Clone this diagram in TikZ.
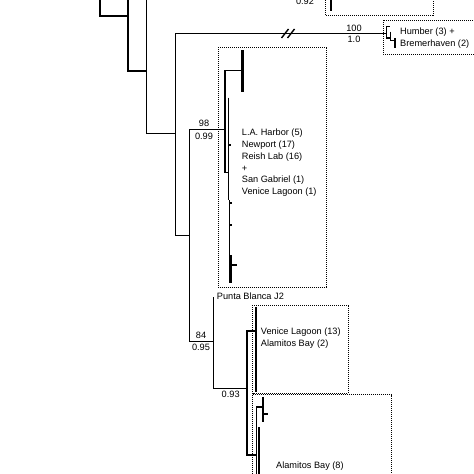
\documentclass[tikz,border=0pt]{standalone}
\usepackage{fontspec}
\setmainfont{Liberation Sans}
\usepackage{tikz}
\tikzstyle{branch}=[line width=1.4pt]
\tikzstyle{thickleaf}=[line width=2.4pt]
\tikzstyle{cladebox}=[line width=0.9pt, dash pattern=on 0.9pt off 1.1pt]
\tikzstyle{lab}=[inner sep=0pt, font=\fontsize{9.2}{11.8}\selectfont]

\begin{document}
\begin{tikzpicture}[x=1pt, y=-1pt]
		\useasboundingbox (0,0) rectangle (474,474);
		\coordinate (up100) at (100,-10);
		\coordinate (n128) at (128,16);
		\coordinate (up128) at (128,-10);
		\coordinate (n147) at (146.7,71);
		\coordinate (up147) at (146.7,-10);
		\coordinate (n176) at (175.7,133.5);
		\coordinate (hum) at (386.5,33.5);
		\coordinate (n189) at (189.3,235.7);
		\coordinate (n225) at (225,129.3);
		\coordinate (n242) at (242.3,70.7);
		\coordinate (n228) at (228.3,172.7);
		\coordinate (n213) at (213.3,341.7);
		\coordinate (pbj) at (213.3,297);
		\coordinate (n247) at (246.7,388.3);
		\coordinate (ven) at (256,331);
		\coordinate (ala) at (256.7,455);
		\coordinate (n263) at (263,407);
		\coordinate (hb1) at (389.5,26.5);
		\coordinate (hb2) at (390.5,38);
		\coordinate (hb3) at (395,40.5);
		\coordinate (brk) at (288,33.5);
		\draw[branch] (up100) |- (n128);
		\draw[branch] (n128) |- (up128);
		\draw[branch] (n128) |- (n147);
		\draw[branch] (n147) |- (up147);
		\draw[branch] (n147) |- (n176);
		\draw[branch] (n176) |- (hum);
		\draw[branch] (n176) |- (n189);
		\draw[branch] (n189) |- (n225);
		\draw[branch] (n189) |- (n213);
		\draw[branch] (n225) |- (n242);
		\draw[branch] (n225) |- (n228);
		\draw[thickleaf] (n242) ++(0,-20.7) -- ++(0,42);
		\draw[branch] (n228) ++(0,-75) -- ++(0,102);
		\draw[branch] (229.3,200) -- (229.3,255);
		\draw[line width=2.4pt] (230.3,255) -- (230.3,283);
		\draw[branch] (228.3,145) -- (230.8,145);
		\draw[branch] (229.3,203) -- (231.5,203);
		\draw[branch] (229.3,225) -- (231.5,225);
		\draw[branch] (230.3,265) -- (236.7,265);
		\draw[branch] (n213) |- (pbj);
		\draw[branch] (n213) |- (n247);
		\draw[line width=1.6pt] (n247) |- (ven);
		\draw[line width=1.6pt] (n247) |- (ala);
		\draw[thickleaf] (ven) ++(0,-24.3) -- ++(0,85);
		\draw[branch] (ala) |- (n263);
		\draw[branch] (ala) -- ++(0,30);
		\draw[thickleaf] (258.7,427) -- (258.7,485);
		\draw[branch] (n263) ++(0,-10.3) -- ++(0,25);
		\draw[branch] (n263) ++(0,7) -- ++(5.3,0);
		\draw[branch] (hum) |- (hb1);
		\draw[branch] (hum) |- (hb2);
		\draw[branch] (hb2) ++(0,-6.5) |- (hb3);
		\draw[thickleaf] (hb3) ++(0,-2.5) -- ++(0,10);
		\draw[branch] (brk) ++(-6.5,4.5) -- ++(7,-9);
		\draw[branch] (brk) ++(-0.5,4.5) -- ++(7,-9);
		\draw[branch] (331,-10) -- (331,11);
		\draw[cladebox] (325.7,-10) rectangle (433,15.3);
		\draw[cladebox] (383.3,20) rectangle (480,54);
		\draw[cladebox] (218.3,47) rectangle (326.7,287.7);
		\draw[cladebox] (252.7,305) rectangle (348.3,393.3);
		\draw[cladebox] (252.3,394.5) rectangle (391.7,480);
		\node[lab] (b092) at (305,1) {0.92};
		\node[lab] (b100) at (354,28.5) {100};
		\node[lab] (p10) at (354,39.5) {1.0};
		\node[lab, anchor=west, align=left] (hname) at (400,38) {Humber (3) +\\Bremerhaven (2)};
		\node[lab, anchor=west, align=left] (laname) at (241.7,162.8) {L.A. Harbor (5)\\Newport (17)\\Reish Lab (16)\\+\\San Gabriel (1)\\Venice Lagoon (1)};
		\node[lab] (b98) at (204,123.7) {98};
		\node[lab] (p099) at (204,136) {0.99};
		\node[lab, anchor=west] (pbname) at (216.7,296) {Punta Blanca J2};
		\node[lab] (b84) at (201,335) {84};
		\node[lab] (p095) at (201,347.3) {0.95};
		\node[lab] (p093) at (230.7,394.3) {0.93};
		\node[lab, anchor=west, align=left] (vname) at (260.7,338.2) {Venice Lagoon (13)\\Alamitos Bay (2)};
		\node[lab, anchor=west] (aname) at (276,466) {Alamitos Bay (8)};
	\end{tikzpicture}
\end{document}
